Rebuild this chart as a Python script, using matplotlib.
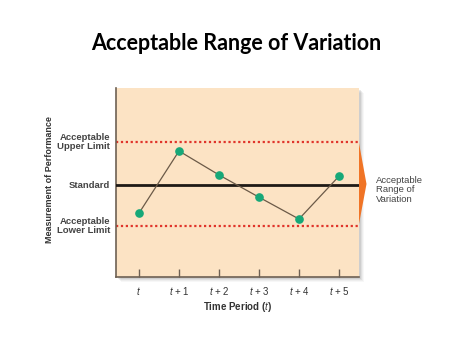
import matplotlib
matplotlib.use("Agg")
import matplotlib.pyplot as plt
from matplotlib.patches import Polygon, Rectangle

# ---- data ----
periods = ["$t$", "$t$ + 1", "$t$ + 2", "$t$ + 3", "$t$ + 4", "$t$ + 5"]
performance = [-0.67, 0.81, 0.24, -0.29, -0.81, 0.21]
standard = 0.0
upper_limit = 1.02
lower_limit = -0.98
title = "Acceptable Range of Variation"
ylabel = "Measurement of Performance"
xlabel = "Time Period ($t$)"
left_labels = ["Acceptable\nUpper Limit", "Standard", "Acceptable\nLower Limit"]
range_label = "Acceptable\nRange of\nVariation"

plt.rcParams['font.family'] = ['Liberation Sans', 'DejaVu Sans']
plt.rcParams['mathtext.fontset'] = 'custom'
plt.rcParams['mathtext.it'] = 'Liberation Sans:italic'
plt.rcParams['mathtext.rm'] = 'Liberation Sans'
plt.rcParams['mathtext.bf'] = 'Liberation Sans:bold'

W, H = 474, 355
fig = plt.figure(figsize=(W / 100, H / 100), dpi=100)
fig.patch.set_facecolor("white")

def fx(px):
    return px / W

def fy(py):
    return 1 - py / H

ax_l, ax_r, ax_t, ax_b = 116, 359, 88, 277
# drop shadow
for off, alpha in [(5, 0.06), (4, 0.08), (3, 0.12), (2, 0.16)]:
    fig.patches.append(Rectangle((fx(ax_l + off), fy(ax_b + off)), fx(ax_r - ax_l), (ax_b - ax_t) / H,
                                 transform=fig.transFigure, facecolor="#7a7a7a", alpha=alpha,
                                 edgecolor="none", zorder=0))

ax = fig.add_axes([fx(ax_l), fy(ax_b), fx(ax_r - ax_l), (ax_b - ax_t) / H], zorder=1)
ax.set_facecolor("#FCE3C4")

x = list(range(len(periods)))
ax.set_xlim(-0.575, 5.5)
ax.set_ylim(-2.19, 2.31)

ax.axhline(upper_limit, color="#E0342A", lw=1.6, linestyle=(0, (1, 1.2)), zorder=2)
ax.axhline(lower_limit, color="#E0342A", lw=1.6, linestyle=(0, (1, 1.2)), zorder=2)
ax.axhline(standard, color="#1E1A16", lw=2.0, zorder=3)
ax.plot(x, performance, color="#6B5A48", lw=0.9, zorder=4)
ax.plot(x, performance, linestyle="none", marker="o", markersize=5.2,
        markerfacecolor="#16A878", markeredgecolor="#16A878", zorder=5)

for s in ["top", "right"]:
    ax.spines[s].set_visible(False)
for s in ["left", "bottom"]:
    ax.spines[s].set_color("#6E6154")
    ax.spines[s].set_linewidth(1.2)

ax.set_xticks(x)
ax.set_xticklabels(periods, fontsize=7, color="#333333")
ax.tick_params(axis="x", direction="in", length=6, width=1.0, color="#6E6154", pad=6)
ax.set_yticks([])

ax.set_xlabel(xlabel, fontsize=7, fontweight="bold", color="#333333", labelpad=2)

# left labels
for lab, yv in zip(left_labels, [upper_limit, standard, lower_limit]):
    ax.text(-0.72, yv, lab, ha="right", va="center", fontsize=6.8, fontweight="bold",
            color="#444444", linespacing=1.05, transform=ax.transData, clip_on=False)

fig.text(fx(49), fy(180), ylabel, rotation=90, ha="center", va="center",
         fontsize=6.5, fontweight="bold", color="#333333")

# orange arrow
arrow = Polygon([(fx(359), fy(143)), (fx(366.5), fy(184)), (fx(359), fy(224))],
                closed=True, transform=fig.transFigure, facecolor="#F07426",
                edgecolor="none", zorder=3)
fig.patches.append(arrow)

fig.text(fx(376), fy(190), range_label, ha="left", va="center", fontsize=6.8,
         color="#444444", linespacing=1.05)

t = fig.text(fx(236), fy(43), title, ha="center", va="center", fontsize=16,
             fontweight="bold", family=["Lato", "DejaVu Sans"], color="black")
fig.canvas.draw()
bb = t.get_window_extent()
t.set_fontsize(16 * 292 / bb.width)

fig.savefig("out.png", dpi=100)
